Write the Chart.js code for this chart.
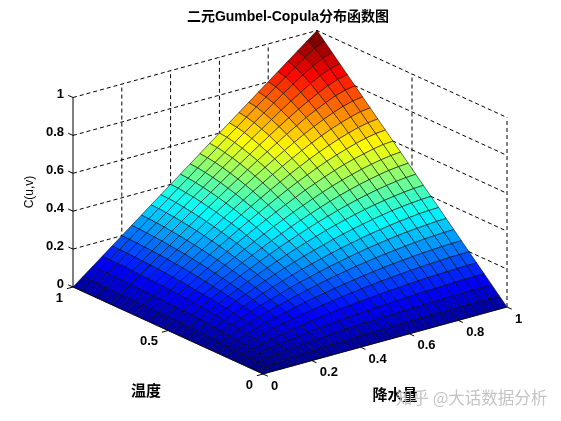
<!DOCTYPE html>
<html>
<head>
<meta charset="utf-8">
<title>二元Gumbel-Copula分布函数图</title>
<script src="https://cdn.jsdelivr.net/npm/chart.js@4/dist/chart.umd.min.js"></script>
<style>
  html, body { margin: 0; padding: 0; background: #fff; }
  canvas { display: block; }
</style>
</head>
<body>
<canvas id="surface" width="561" height="421"></canvas>
<script>
const titleText = "二元Gumbel-Copula分布函数图";
const zTitle = "C(u,v)";
const tempTitle = "温度";
const rainTitle = "降水量";
const watermark = "知乎 @大话数据分析";

const zTicks = [0, 0.2, 0.4, 0.6, 0.8, 1];
const tempTicks = [0, 0.5, 1];
const rainTicks = [0, 0.2, 0.4, 0.6, 0.8, 1];

// mesh lines on both floor axes
const gridSteps = [0, 0.04, 0.08, 0.12, 0.16, 0.2, 0.24, 0.28, 0.32, 0.36, 0.4, 0.44, 0.48,
  0.52, 0.56, 0.6, 0.64, 0.68, 0.72, 0.76, 0.8, 0.84, 0.88, 0.92, 0.96, 1];

// C(u,v). It is symmetric, so row i only holds columns 0..i
const cValues = [
  [0],
  [0, .006],
  [0, .010, .018],
  [0, .014, .025, .035],
  [0, .017, .031, .043, .054],
  [0, .019, .036, .051, .065, .078],
  [0, .022, .041, .058, .074, .090, .104],
  [0, .024, .045, .065, .083, .101, .117, .133],
  [0, .026, .049, .071, .092, .111, .130, .147, .164],
  [0, .028, .053, .077, .099, .121, .141, .161, .180, .198],
  [0, .029, .056, .082, .106, .130, .152, .174, .195, .215, .234],
  [0, .031, .059, .086, .113, .138, .162, .186, .209, .231, .252, .272],
  [0, .032, .062, .091, .119, .146, .172, .198, .222, .246, .269, .291, .312],
  [0, .033, .064, .095, .124, .153, .181, .208, .235, .260, .285, .309, .332, .354],
  [0, .034, .067, .099, .129, .160, .189, .218, .246, .274, .300, .326, .351, .375, .398],
  [0, .035, .069, .102, .134, .166, .197, .228, .257, .287, .315, .343, .369, .395, .420, .444],
  [0, .036, .071, .105, .139, .172, .204, .236, .268, .298, .329, .358, .386, .414, .441, .468, .493],
  [0, .037, .072, .108, .142, .177, .211, .244, .277, .309, .341, .372, .402, .432, .461, .489, .516, .542],
  [0, .037, .074, .110, .146, .181, .217, .251, .285, .319, .352, .385, .417, .449, .480, .510, .539, .567, .594],
  [0, .038, .075, .112, .149, .186, .222, .257, .293, .328, .363, .397, .431, .464, .497, .529, .560, .590, .619, .647],
  [0, .038, .077, .114, .152, .189, .226, .263, .300, .336, .372, .408, .443, .478, .512, .547, .579, .611, .643, .673, .703],
  [0, .039, .078, .116, .154, .193, .231, .268, .306, .343, .381, .417, .454, .490, .526, .562, .596, .631, .665, .697, .729, .758],
  [0, .039, .079, .118, .156, .195, .234, .273, .311, .349, .388, .425, .463, .501, .538, .575, .612, .648, .684, .719, .753, .785, .817],
  [0, .040, .079, .119, .158, .198, .237, .276, .315, .355, .393, .432, .471, .510, .548, .587, .625, .663, .700, .738, .775, .810, .844, .876],
  [0, .040, .080, .120, .159, .199, .239, .279, .319, .358, .398, .437, .477, .516, .556, .596, .635, .674, .714, .752, .791, .829, .867, .904, .938],
  [0, .04, .08, .12, .16, .2, .24, .28, .32, .36, .4, .44, .48, .52, .56, .6, .64, .68, .72, .76, .8, .84, .88, .92, .96, 1]
];

function cAt(i, j) {
  return i >= j ? cValues[i][j] : cValues[j][i];
}

// view of the box: where the front floor corner sits and how each axis runs on screen
const viewOrigin = { x: 263, y: 374 };
const tempDir = { x: -190, y: -87 };
const rainDir = { x: 244, y: -67 };
const zDir = { x: 0, y: -189.5 };

function project(t, r, z) {
  return {
    x: viewOrigin.x + t * tempDir.x + r * rainDir.x + z * zDir.x,
    y: viewOrigin.y + t * tempDir.y + r * rainDir.y + z * zDir.y
  };
}

// matlab jet
function jet(v) {
  const ramp = (d) => Math.max(0, Math.min(1, 1.5 - Math.abs(4 * v - d)));
  const c = (x) => Math.round(x * 255);
  return "rgb(" + c(ramp(3)) + "," + c(ramp(2)) + "," + c(ramp(1)) + ")";
}

function lineSet(points, color, dash, width) {
  return {
    type: "scatter",
    data: points,
    showLine: true,
    fill: false,
    tension: 0,
    borderColor: color,
    borderDash: dash,
    borderWidth: width,
    pointRadius: 0
  };
}

const datasets = [];

// axis lines and tick stubs go on top of everything
datasets.push(lineSet([project(1, 0, 0), project(1, 0, 1)], "#000", [], 1));
datasets.push(lineSet([project(1, 0, 0), project(0, 0, 0), project(0, 1, 0)], "#000", [], 0.8));
zTicks.forEach(function (z) {
  datasets.push(lineSet([project(1, 0, z), project(1.025, 0, z)], "#000", [], 1));
});
tempTicks.forEach(function (t) {
  datasets.push(lineSet([project(t, 0, 0), project(t, -0.025, 0)], "#000", [], 1));
});
rainTicks.forEach(function (r) {
  datasets.push(lineSet([project(0, r, 0), project(-0.025, r, 0)], "#000", [], 1));
});

// surface cells, nearest first because Chart.js paints the first dataset last
for (let i = 0; i < gridSteps.length - 1; i++) {
  for (let j = 0; j < gridSteps.length - 1; j++) {
    const t0 = gridSteps[i], t1 = gridSteps[i + 1];
    const r0 = gridSteps[j], r1 = gridSteps[j + 1];
    const a = project(t0, r0, cAt(i, j));
    datasets.push({
      type: "scatter",
      data: [a, project(t1, r0, cAt(i + 1, j)), project(t1, r1, cAt(i + 1, j + 1)), project(t0, r1, cAt(i, j + 1)), a],
      showLine: true,
      tension: 0,
      fill: "shape",
      backgroundColor: jet(cAt(i + 1, j + 1)),
      borderColor: "#000",
      borderWidth: 0.55,
      pointRadius: 0
    });
  }
}

// back walls: dashed grid
const wallDash = [4, 3];
zTicks.forEach(function (z) {
  datasets.push(lineSet([project(1, 0, z), project(1, 1, z), project(0, 1, z)], "#000", wallDash, 1));
});
rainTicks.slice(1).forEach(function (r) {
  datasets.push(lineSet([project(1, r, 0), project(1, r, 1)], "#000", wallDash, 1));
});
tempTicks.slice(0, 2).forEach(function (t) {
  datasets.push(lineSet([project(t, 1, 0), project(t, 1, 1)], "#000", wallDash, 1));
});

// tick labels and titles sit at oblique spots, so they are written through the scales
const boxText = {
  id: "boxText",
  afterDraw(chart) {
    const ctx = chart.ctx;
    const sx = chart.scales.x, sy = chart.scales.y;
    const put = (text, p, dx, dy, align, font) => {
      ctx.font = font;
      ctx.textAlign = align;
      ctx.textBaseline = "middle";
      ctx.fillText(text, sx.getPixelForValue(p.x) + dx, sy.getPixelForValue(p.y) + dy);
    };
    const tickFont = 'bold 13px "Liberation Sans"';
    const cjkFont = 'bold 15px "Noto Sans CJK SC"';
    ctx.save();
    ctx.fillStyle = "#000";
    zTicks.forEach((z) => put(String(z), project(1, 0, z), -9, -3, "right", tickFont));
    tempTicks.forEach((t) => put(String(t), project(t, 0, 0), -10, 11, "right", tickFont));
    rainTicks.forEach((r) => put(String(r), project(0, r, 0), 8, 12, "left", tickFont));
    put(titleText, { x: 288, y: 17 }, 0, 0, "center", 'bold 14px "Liberation Sans", "Noto Sans CJK SC"');
    put(tempTitle, { x: 146, y: 390 }, 0, 0, "center", cjkFont);
    put(rainTitle, { x: 395, y: 394 }, 0, 0, "center", cjkFont);

    ctx.save();
    ctx.translate(sx.getPixelForValue(30), sy.getPixelForValue(192));
    ctx.rotate(-Math.PI / 2);
    put(zTitle, { x: 0, y: 0 }, -sx.getPixelForValue(0), -sy.getPixelForValue(0), "center", '12px "Liberation Sans"');
    ctx.restore();

    ctx.fillStyle = "rgba(185,185,185,0.85)";
    put(watermark, { x: 396, y: 398 }, 0, 0, "left", '16.5px "Noto Sans CJK SC"');
    ctx.restore();
  }
};

new Chart(document.getElementById("surface"), {
  type: "scatter",
  data: { datasets: datasets },
  options: {
    responsive: false,
    animation: false,
    events: [],
    layout: { padding: 0 },
    scales: {
      x: { type: "linear", min: 0, max: 561, display: false },
      y: { type: "linear", min: 0, max: 421, reverse: true, display: false }
    },
    plugins: {
      legend: { display: false },
      tooltip: { enabled: false },
      filler: { propagate: false }
    }
  },
  plugins: [boxText]
});
</script>
</body>
</html>
